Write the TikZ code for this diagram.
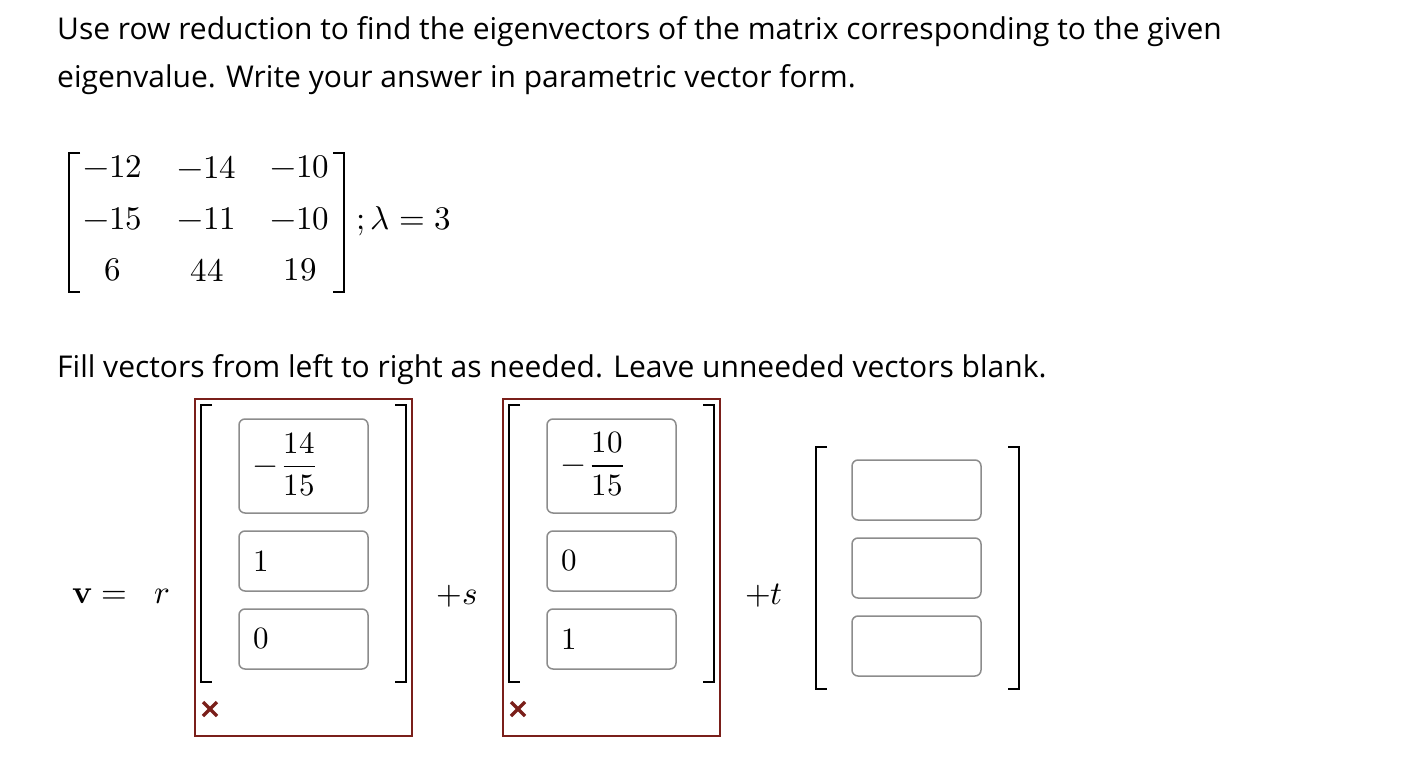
\documentclass[tikz,border=0pt]{standalone}
\usetikzlibrary{calc}
\usepackage{fontspec}
\setmainfont{Open Sans}
\usepackage{amsmath}
\usepackage{unicode-math}
\setmathfont{Latin Modern Math}
\definecolor{darkred}{HTML}{7A1F1A}
\tikzset{
 inbox/.style={draw=gray!90, line width=1.5pt, rounded corners=6pt},
 redbox/.style={draw=darkred, line width=1.5pt},
 brk/.style={line width=1.8pt},
 txt/.style={font=\fontsize{30}{36}\selectfont, anchor=west, inner sep=0},
 mth/.style={font=\fontsize{33}{38}\selectfont, inner sep=0},
 cell/.style={font=\fontsize{31}{36}\selectfont, inner sep=0, anchor=west},
 xmark/.style={draw=darkred, line width=3.5pt}
}
\begin{document}
\begin{tikzpicture}[x=1pt,y=-1pt]
\useasboundingbox (0,0) rectangle (1415,770);
\node[txt] (t1) at (57,32) {Use row reduction to find the eigenvectors of the matrix corresponding to the given};
\node[txt] (t2) at (57,80) {eigenvalue. Write your answer in parametric vector form.};
% matrix
\draw[line width=1.6pt] (80,153) -- (69,153) -- (69,292) -- (80,292);
\draw[line width=1.6pt] (333,153) -- (344,153) -- (344,292) -- (333,292);
\node[mth] (a11) at (113,167) {$-12$};
\node[mth] (a12) at (207,167) {$-14$};
\node[mth] (a13) at (300,167) {$-10$};
\node[mth] (a21) at (113,219) {$-15$};
\node[mth] (a22) at (207,219) {$-11$};
\node[mth] (a23) at (300,219) {$-10$};
\node[mth] (a31) at (113,270) {$6$};
\node[mth] (a32) at (207,270) {$44$};
\node[mth] (a33) at (300,270) {$19$};
\node[mth, anchor=west] (lam) at (356,221) {$;\lambda=3$};
\node[txt] (t3) at (57,370) {Fill vectors from left to right as needed. Leave unneeded vectors blank.};
\node[mth] (v) at (121,596) {$\symbf{v}=\;\; r$};
% vector 1
\draw[redbox] (195,399) rectangle (412,736);
\draw[brk] (212,405) -- (201,405) -- (201,682) -- (212,682);
\draw[brk] (395,405) -- (406,405) -- (406,682) -- (395,682);
\draw[inbox] (239,419) rectangle (368,513);
\draw[inbox] (239,531) rectangle (368,591);
\draw[inbox] (239,609) rectangle (368,669);
\node[cell] (c11) at (253,464) {$-\,\dfrac{14}{15}$};
\node[cell] (c12) at (253,561) {$1$};
\node[cell] (c13) at (253,639) {$0$};
\coordinate (x1) at (210,709);
\draw[xmark] ($(x1)+(-7,-7)$) -- ($(x1)+(7,7)$) ($(x1)+(-7,7)$) -- ($(x1)+(7,-7)$);
\node[mth] (ps) at (457,596) {$+s$};
% vector 2
\draw[redbox] (503,399) rectangle (720,736);
\draw[brk] (520,405) -- (509,405) -- (509,682) -- (520,682);
\draw[brk] (703,405) -- (714,405) -- (714,682) -- (703,682);
\draw[inbox] (547,419) rectangle (676,513);
\draw[inbox] (547,531) rectangle (676,591);
\draw[inbox] (547,609) rectangle (676,669);
\node[cell] (c21) at (561,464) {$-\,\dfrac{10}{15}$};
\node[cell] (c22) at (561,561) {$0$};
\node[cell] (c23) at (561,639) {$1$};
\coordinate (x2) at (518,709);
\draw[xmark] ($(x2)+(-7,-7)$) -- ($(x2)+(7,7)$) ($(x2)+(-7,7)$) -- ($(x2)+(7,-7)$);
\node[mth] (pt) at (764,596) {$+t$};
% vector 3
\draw[brk] (827,447) -- (816,447) -- (816,689) -- (827,689);
\draw[brk] (1008,447) -- (1019,447) -- (1019,689) -- (1008,689);
\draw[inbox] (852,460) rectangle (981,520);
\draw[inbox] (852,538) rectangle (981,598);
\draw[inbox] (852,616) rectangle (981,676);
\end{tikzpicture}
\end{document}
